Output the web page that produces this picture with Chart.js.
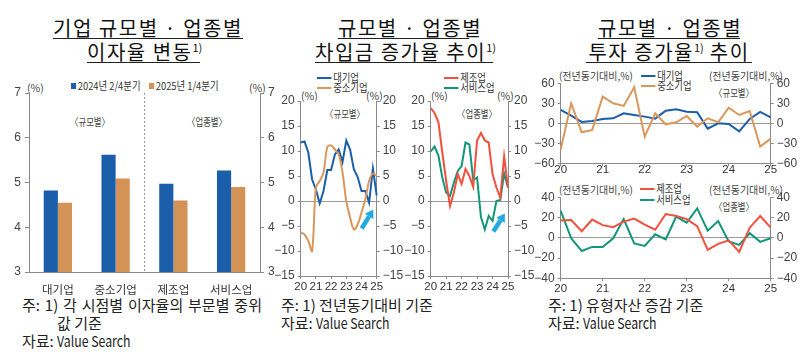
<!DOCTYPE html>
<html>
<head>
<meta charset="utf-8">
<script src="https://cdn.jsdelivr.net/npm/chart.js@4.4.0/dist/chart.umd.min.js"></script>
<style>
  body { margin: 0; width: 800px; height: 352px; position: relative; overflow: hidden; background: #fff;
         font-family: "Noto Sans CJK KR", "Noto Sans", sans-serif; color: #222; }
  .abs { position: absolute; white-space: nowrap; }
  canvas { position: absolute; }
  .ttl { font-size: 20px; letter-spacing: 1.5px; line-height: 21px; height: 21px; border-bottom: 1.5px solid #222;
         text-align: center; color: #111; }
  .ttl sup { font-size: 11px; vertical-align: 8px; line-height: 0; letter-spacing: 0; }
  .lg { font-size: 11px; color: #333; transform: scaleX(0.85); transform-origin: left top; }
  .sq { display: inline-block; width: 6px; height: 6px; margin-right: 2px; vertical-align: 1px; }
  .ln { display: inline-block; width: 17px; height: 2px; margin-right: 2px; vertical-align: 3px; }
  .sm { font-size: 10.5px; color: #444; }
  .br { font-size: 10.5px; color: #444; transform: scaleX(0.8); transform-origin: left top; }
  .pc { font-size: 10.5px; color: #444; transform: scaleX(0.95); transform-origin: left top; }
  .note { font-size: 15px; color: #222; line-height: 18px; }
  .nar { display: inline-block; transform: scaleX(0.82); transform-origin: left top; }
</style>
</head>
<body>

<!-- titles -->
<div class="abs ttl" style="left:53px; top:17px; width:190px;">기업 규모별 · 업종별</div>
<div class="abs ttl" style="left:87px; top:41px; width:113px;">이자율 변동<sup>1)</sup></div>
<div class="abs ttl" style="left:338px; top:17px; width:131px;">규모별 · 업종별</div>
<div class="abs ttl" style="left:315px; top:41px; width:178px;">차입금 증가율 추이<sup>1)</sup></div>
<div class="abs ttl" style="left:598px; top:17px; width:142px;">규모별 · 업종별</div>
<div class="abs ttl" style="left:586px; top:41px; width:166px;">투자 증가율<sup>1)</sup> 추이</div>

<!-- panel 1 labels -->
<div class="abs lg" style="left:71px; top:77px;"><span class="sq" style="background:#1b5ea9"></span>2024년 2/4분기</div>
<div class="abs lg" style="left:149px; top:77px;"><span class="sq" style="background:#d39256"></span>2025년 1/4분기</div>
<div class="abs sm" style="left:27px; top:80px;">(%)</div>
<div class="abs sm" style="left:249px; top:80px;">(%)</div>
<div class="abs br" style="left:70px; top:114px;">〈규모별〉</div>
<div class="abs br" style="left:187px; top:114px;">〈업종별〉</div>

<!-- panel 2 labels -->
<div class="abs lg" style="left:317px; top:69px;"><span class="ln" style="background:#1b5ea9"></span>대기업</div>
<div class="abs lg" style="left:317px; top:79px;"><span class="ln" style="background:#d9975b"></span>중소기업</div>
<div class="abs lg" style="left:444px; top:69px;"><span class="ln" style="background:#f0503d"></span>제조업</div>
<div class="abs lg" style="left:444px; top:79px;"><span class="ln" style="background:#11967a"></span>서비스업</div>
<div class="abs sm" style="left:301px; top:88px;">(%)</div>
<div class="abs sm" style="left:366px; top:88px;">(%)</div>
<div class="abs sm" style="left:431px; top:88px;">(%)</div>
<div class="abs sm" style="left:497px; top:88px;">(%)</div>
<div class="abs br" style="left:325px; top:106px;">〈규모별〉</div>
<div class="abs br" style="left:457px; top:106px;">〈업종별〉</div>

<!-- panel 3 labels -->
<div class="abs pc" style="left:559px; top:68px;">(전년동기대비,%)</div>
<div class="abs pc" style="left:709px; top:68px;">(전년동기대비,%)</div>
<div class="abs lg" style="left:641px; top:67px;"><span class="ln" style="background:#1b5ea9"></span>대기업</div>
<div class="abs lg" style="left:641px; top:77px;"><span class="ln" style="background:#d9975b"></span>중소기업</div>
<div class="abs br" style="left:714px; top:85px;">〈규모별〉</div>
<div class="abs pc" style="left:559px; top:182px;">(전년동기대비,%)</div>
<div class="abs pc" style="left:709px; top:182px;">(전년동기대비,%)</div>
<div class="abs lg" style="left:640px; top:180px;"><span class="ln" style="background:#f0503d"></span>제조업</div>
<div class="abs lg" style="left:640px; top:191px;"><span class="ln" style="background:#11967a"></span>서비스업</div>
<div class="abs br" style="left:714px; top:199px;">〈업종별〉</div>

<!-- footnotes -->
<div class="abs note" style="left:22px; top:296px; word-spacing:1.5px;">주: 1) 각 시점별 이자율의 부문별 중위</div>
<div class="abs note" style="left:57px; top:314px;">값 기준</div>
<div class="abs note" style="left:22px; top:332px;">자료: <span class="nar">Value Search</span></div>
<div class="abs note" style="left:281px; top:296px;">주: 1) 전년동기대비 기준</div>
<div class="abs note" style="left:281px; top:314px;">자료: <span class="nar">Value Search</span></div>
<div class="abs note" style="left:548px; top:296px;">주: 1) 유형자산 증감 기준</div>
<div class="abs note" style="left:548px; top:314px;">자료: <span class="nar">Value Search</span></div>

<canvas id="c1" width="290" height="215" style="left:0px; top:80px;"></canvas>
<canvas id="c2a" width="140" height="220" style="left:270px; top:80px;"></canvas>
<canvas id="c2b" width="140" height="220" style="left:400px; top:80px;"></canvas>
<canvas id="c3a" width="270" height="118" style="left:530px; top:60px;"></canvas>
<canvas id="c3b" width="270" height="124" style="left:530px; top:176px;"></canvas>

<script>
// ---- data ----
const barCategories = ['대기업', '중소기업', '제조업', '서비스업'];
const bar2024Q2 = [4.82, 5.62, 4.97, 5.27];
const bar2025Q1 = [4.55, 5.09, 4.60, 4.90];

const quarters = ['20Q1','20Q2','20Q3','20Q4','21Q1','21Q2','21Q3','21Q4','22Q1','22Q2','22Q3','22Q4',
                  '23Q1','23Q2','23Q3','23Q4','24Q1','24Q2','24Q3','24Q4','25Q1'];
const yearTicks = ['20', '21', '22', '23', '24', '25'];

// 차입금 증가율 (%)
const loanLarge = [11.7, 11.9, 9.7, 4.3, 2.3, -0.5, 2.0, 6.2, 6.2, 9.3, 10.3, 7.8, 12.1, 10.3, 6.3, 4.8, 2.0, 2.0, -0.3, 6.5, 1.1];
const loanSME   = [-6.3, -6.7, -8.0, -10.0, 2.7, 4.0, 5.7, 10.8, 11.1, 10.3, 9.3, 5.7, 0.0, -3.3, -5.7, -4.7, -2.3, 0.3, 4.0, 5.5, 5.0];
const loanMfg   = [18.6, 17.6, 15.8, 9.7, 4.0, -1.0, 1.7, 5.4, 3.4, 6.4, 5.0, 2.8, 12.1, 13.6, 12.1, 11.7, 5.4, 2.7, 0.7, 8.9, 2.7];
const loanSvc   = [9.9, 10.9, 9.1, 4.7, 1.7, 1.0, 3.7, 6.0, 7.0, 11.7, 11.3, 4.2, 4.7, -3.2, -5.7, -3.0, -4.0, 0.0, 0.2, 5.5, 2.7];

// 투자 증가율 (전년동기대비, %)
const invLarge = [20, 11.5, 2, 3.5, 6.5, 7.5, 15, 12.5, 10, 7, 19, 21, 17.5, 16.5, -8, 0, -1, -12, 6.5, 17, 9];
const invSME   = [-39, 30, -13.5, -10, 40, 30, 26, 54, -20, 15, -1.5, 1.5, 11, -5, 7.5, 1.5, 23.5, 12.5, 18.5, -35, -23];
const invMfg   = [17, 17.5, 6.5, 18, 12.5, 10.5, 16, 19, 13, 8, 23.5, 21.5, 18.5, 11.5, -12, -6, -2.5, -14, 10, 21.5, 10];
const invSvc   = [26.5, -0.5, -13, -9, -9, -0.5, 18.5, -5.5, -8, 3.5, -1.5, 21, 15, 29, 7, 16.5, -3.5, -7, 4.5, -4, -0.5];

// 화살표 (분기 index, 값)
const arrowLarge = [16.05, -5.5, 19.1, -1.7];
const arrowIndustry = [16.2, -6.1, 19.2, -2.5];

// ---- style ----
const BLUE = '#1b5ea9', TAN = '#d39256', ORANGE = '#d9975b', RED = '#f0503d', GREEN = '#11967a';
const AXIS = '#8a8a8a';
const tickFont = { family: 'Liberation Sans, Arial, sans-serif', size: 12 };
const xFont = { family: 'Liberation Sans, Arial, sans-serif', size: 11.5 };
const catFont = { family: 'Noto Sans CJK KR, sans-serif', size: 11.5 };

Chart.defaults.animation = false;
Chart.defaults.responsive = false;
Chart.defaults.plugins.legend.display = false;
Chart.defaults.plugins.tooltip.enabled = false;
Chart.defaults.color = '#444';

const minus = v => String(v).replace('-', '\u2212');

const dividerPlugin = {
  id: 'divider',
  afterDatasetsDraw(chart) {
    const { ctx, chartArea, scales } = chart;
    const x = scales.x.getPixelForValue(1.5);
    ctx.save();
    ctx.strokeStyle = '#9a9a9a';
    ctx.lineWidth = 1;
    ctx.setLineDash([2, 2]);
    ctx.beginPath();
    ctx.moveTo(x, chartArea.top);
    ctx.lineTo(x, chartArea.bottom);
    ctx.stroke();
    ctx.restore();
  }
};

const arrowPlugin = {
  id: 'arrow',
  afterDatasetsDraw(chart, args, opts) {
    if (!opts || !opts.pts) return;
    const { ctx, scales } = chart;
    const p = opts.pts;
    const x1 = scales.x.getPixelForValue(p[0]), y1 = scales.y.getPixelForValue(p[1]);
    const x2 = scales.x.getPixelForValue(p[2]), y2 = scales.y.getPixelForValue(p[3]);
    const a = Math.atan2(y2 - y1, x2 - x1);
    const hl = 8, hw = 5;
    const bx = x2 - hl * Math.cos(a), by = y2 - hl * Math.sin(a);
    ctx.save();
    ctx.strokeStyle = '#22a9e1';
    ctx.fillStyle = '#22a9e1';
    ctx.lineWidth = 4.5;
    ctx.beginPath();
    ctx.moveTo(x1, y1);
    ctx.lineTo(bx, by);
    ctx.stroke();
    ctx.beginPath();
    ctx.moveTo(x2, y2);
    ctx.lineTo(bx + hw * Math.sin(a), by - hw * Math.cos(a));
    ctx.lineTo(bx - hw * Math.sin(a), by + hw * Math.cos(a));
    ctx.closePath();
    ctx.fill();
    ctx.restore();
  }
};

// ---- panel 1: bars ----
new Chart(document.getElementById('c1'), {
  type: 'bar',
  data: {
    labels: barCategories,
    datasets: [
      { data: bar2024Q2, backgroundColor: BLUE, categoryPercentage: 0.49, barPercentage: 1.0 },
      { data: bar2025Q1, backgroundColor: TAN, categoryPercentage: 0.49, barPercentage: 1.0 }
    ]
  },
  options: {
    layout: { padding: { top: 13, left: 0, right: 0, bottom: 0 } },
    scales: {
      x: {
        grid: { display: false },
        border: { display: true, color: AXIS },
        ticks: { font: catFont, color: '#333', padding: 3 },
        afterFit: s => { s.height = 23; }
      },
      y: {
        min: 3, max: 7,
        ticks: { stepSize: 1, font: tickFont, padding: 4 },
        grid: { drawOnChartArea: false, tickLength: 4, color: AXIS },
        border: { color: AXIS },
        afterFit: s => { s.width = 29; }
      },
      y2: {
        position: 'right', min: 3, max: 7,
        ticks: { stepSize: 1, font: tickFont, padding: 4 },
        grid: { drawOnChartArea: false, tickLength: 4, color: AXIS },
        border: { color: AXIS },
        afterFit: s => { s.width = 30; }
      }
    }
  },
  plugins: [dividerPlugin]
});

// ---- line chart helper ----
function lineChart(id, series, range, step, box, arrow) {
  const ds = series.map(s => ({
    data: s.data, borderColor: s.color, borderWidth: 2, pointRadius: 0,
    tension: s.tension || 0, fill: false
  }));
  const yAxis = pos => ({
    position: pos, min: range[0], max: range[1],
    ticks: { stepSize: step, font: tickFont, padding: 3, callback: v => minus(v) },
    grid: {
      drawOnChartArea: pos === 'left',
      color: c => (c.tick && c.tick.value === 0) ? '#9a9a9a' : 'rgba(0,0,0,0)',
      tickColor: AXIS, tickLength: 3
    },
    border: { color: AXIS },
    afterFit: s => { s.width = pos === 'left' ? box.left : box.right; }
  });
  return new Chart(document.getElementById(id), {
    type: 'line',
    data: { labels: quarters, datasets: ds },
    options: {
      layout: { padding: { top: box.top, left: 0, right: 0, bottom: 0 } },
      scales: {
        x: {
          offset: false,
          grid: { drawOnChartArea: false, tickLength: 3, color: AXIS },
          border: { color: AXIS },
          ticks: {
            autoSkip: false, maxRotation: 0, padding: box.xpad, font: xFont, color: '#333',
            callback: (v, i) => (i % 4 === 0 ? yearTicks[i / 4] : null)
          },
          afterFit: s => { s.height = box.bottom; }
        },
        y: yAxis('left'),
        y2: yAxis('right')
      },
      plugins: { arrow: { pts: arrow } }
    },
    plugins: [arrowPlugin]
  });
}

lineChart('c2a', [
  { data: loanSME, color: ORANGE, tension: 0.35 },
  { data: loanLarge, color: BLUE }
], [-15, 20], 5, { left: 30.7, right: 33.3, top: 21, bottom: 24, xpad: 1 }, arrowLarge);

lineChart('c2b', [
  { data: loanMfg, color: RED },
  { data: loanSvc, color: GREEN }
], [-15, 20], 5, { left: 30.7, right: 32, top: 21, bottom: 24, xpad: 1 }, arrowIndustry);

lineChart('c3a', [
  { data: invSME, color: ORANGE },
  { data: invLarge, color: BLUE }
], [-60, 60], 30, { left: 30.7, right: 29.3, top: 23.3, bottom: 14.7, xpad: -3 }, null);

lineChart('c3b', [
  { data: invMfg, color: RED },
  { data: invSvc, color: GREEN }
], [-40, 40], 20, { left: 30.7, right: 29.3, top: 21.3, bottom: 21.7, xpad: 1 }, null);
</script>
</body>
</html>
